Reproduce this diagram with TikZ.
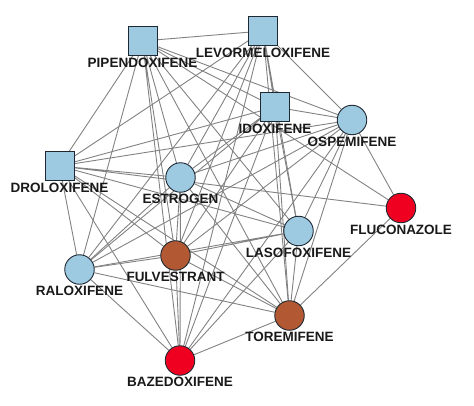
\documentclass[tikz,border=0pt]{standalone}
\usepackage{fontspec}
\setmainfont{Liberation Sans}
\usetikzlibrary{positioning, backgrounds}

\definecolor{drugblue}{RGB}{158,202,225}
\definecolor{drugbrown}{RGB}{178,88,50}
\definecolor{drugred}{RGB}{240,0,32}
\definecolor{rimgray}{RGB}{30,40,50}
\definecolor{linkgray}{RGB}{130,130,130}

\begin{document}
\begin{tikzpicture}[
    x=1pt, y=-1pt,
    drug/.style={draw=rimgray, line width=0.9pt, inner sep=0pt},
    sqdrug/.style={drug, rectangle, minimum size=29pt, fill=drugblue},
    rounddrug/.style={drug, circle, minimum size=29.5pt, fill=drugblue},
    browndrug/.style={rounddrug, fill=drugbrown},
    reddrug/.style={rounddrug, fill=drugred},
    drugname/.style={font=\bfseries\fontsize{13.5}{13.5}\selectfont, inner sep=0pt, text=black!90},
    link/.style={draw=linkgray, line width=0.9pt},
]
\useasboundingbox (0,0) rectangle (474,406);

% Drugs
\node[sqdrug] (pip) at (142.5,41) {};
\node[sqdrug] (lev) at (263,31) {};
\node[sqdrug] (ido) at (275,107) {};
\node[rounddrug] (osp) at (352,120) {};
\node[sqdrug] (dro) at (59.5,166) {};
\node[rounddrug] (est) at (180.5,177.5) {};
\node[reddrug] (flu) at (401,208) {};
\node[rounddrug] (las) at (298.5,231) {};
\node[browndrug] (ful) at (175.5,255.5) {};
\node[rounddrug] (ral) at (79.5,269.5) {};
\node[browndrug] (tor) at (289.5,315.5) {};
\node[reddrug] (baz) at (180,360.5) {};

% Names under the drugs
\node[drugname, below=1.5pt of pip.south] (pip-name) {PIPENDOXIFENE};
\node[drugname, below=1.5pt of lev.south] (lev-name) {LEVORMELOXIFENE};
\node[drugname, below=1.5pt of ido.south] (ido-name) {IDOXIFENE};
\node[drugname, below=1.5pt of osp.south] (osp-name) {OSPEMIFENE};
\node[drugname, below=1.5pt of dro.south] (dro-name) {DROLOXIFENE};
\node[drugname, below=1.5pt of est.south] (est-name) {ESTROGEN};
\node[drugname, below=1.5pt of flu.south] (flu-name) {FLUCONAZOLE};
\node[drugname, below=1.5pt of las.south] (las-name) {LASOFOXIFENE};
\node[drugname, below=1.5pt of ful.south] (ful-name) {FULVESTRANT};
\node[drugname, below=1.5pt of ral.south] (ral-name) {RALOXIFENE};
\node[drugname, below=1.5pt of tor.south] (tor-name) {TOREMIFENE};
\node[drugname, below=1.5pt of baz.south] (baz-name) {BAZEDOXIFENE};

% Links (behind everything)
\begin{scope}[on background layer]
\draw[link] (pip) -- (lev) (pip) -- (ido) (pip) -- (osp) (pip) -- (dro) (pip) -- (est) (pip) -- (las)
    (pip) -- (ful) (pip) -- (ral) (pip) -- (tor) (pip) -- (baz) (pip) -- (flu);
\draw[link] (lev) -- (ido) (lev) -- (osp) (lev) -- (dro) (lev) -- (est) (lev) -- (las) (lev) -- (ful)
    (lev) -- (ral) (lev) -- (tor) (lev) -- (baz);
\draw[link] (ido) -- (osp) (ido) -- (dro) (ido) -- (est) (ido) -- (las) (ido) -- (ful) (ido) -- (ral)
    (ido) -- (tor) (ido) -- (baz);
\draw[link] (osp) -- (dro) (osp) -- (est) (osp) -- (las) (osp) -- (ful) (osp) -- (ral) (osp) -- (tor)
    (osp) -- (baz) (osp) -- (flu);
\draw[link] (dro) -- (est) (dro) -- (las) (dro) -- (ful) (dro) -- (ral) (dro) -- (tor) (dro) -- (baz)
    (dro) -- (flu);
\draw[link] (est) -- (las) (est) -- (ful) (est) -- (ral) (est) -- (tor) (est) -- (baz);
\draw[link] (las) -- (ful) (las) -- (ral) (las) -- (tor) (las) -- (baz);
\draw[link] (ful) -- (ral) (ful) -- (tor) (ful) -- (baz);
\draw[link] (ral) -- (tor) (ral) -- (baz);
\draw[link] (tor) -- (baz) (tor) -- (flu);
\end{scope}
\end{tikzpicture}
\end{document}
